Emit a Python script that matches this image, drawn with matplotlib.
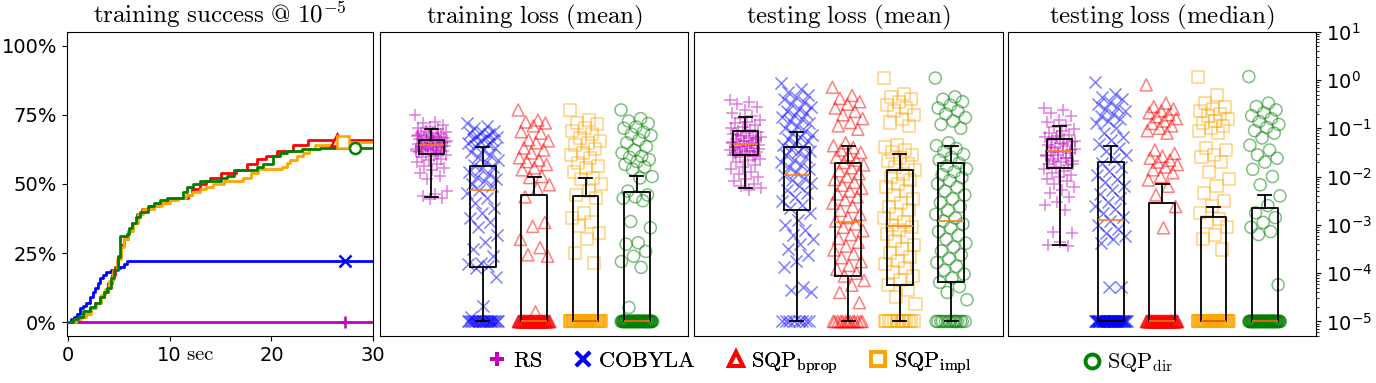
import numpy as np
import matplotlib
matplotlib.use("Agg")
import matplotlib.pyplot as plt
from matplotlib.lines import Line2D

plt.rcParams["mathtext.fontset"] = "cm"
plt.rcParams["font.family"] = ["DejaVu Sans"]

labels = [r"$\mathrm{RS}$", r"$\mathrm{COBYLA}$", r"$\mathrm{SQP}_{\mathrm{bprop}}$",
          r"$\mathrm{SQP}_{\mathrm{impl}}$", r"$\mathrm{SQP}_{\mathrm{dir}}$"]
colors = ["m", "b", "r", "orange", "g"]
markers = ["+", "x", "^", "s", "o"]

# ---- training success curves: (sec, fraction) breakpoints ----
rs_t = [0, 30]
rs_f = [0, 0]
cob_t = [0, 0.3, 0.6, 0.9, 1.2, 1.5, 1.8, 2.2, 2.5, 2.7, 3.0, 3.2, 3.5, 3.8, 4.2, 4.7, 5.1, 5.5, 5.8, 30]
cob_f = [0, 0.01, 0.02, 0.03, 0.05, 0.06, 0.07, 0.09, 0.11, 0.125, 0.14, 0.16, 0.17, 0.18, 0.19, 0.195, 0.20, 0.21, 0.22, 0.22]
bp_t = [0, 0.7, 1.2, 1.7, 2.2, 2.7, 3.2, 3.6, 4.0, 4.3, 4.6, 4.9, 5.2, 5.5, 5.9, 6.3, 6.8, 7.3, 8.0, 9.0,
        9.6, 10.5, 11.8, 12.2, 13.0, 13.6, 14.0, 15.0, 16.5, 17.6, 18.6, 19.5, 20.5, 22.1, 23.6, 30]
bp_f = [0, 0.01, 0.02, 0.03, 0.05, 0.07, 0.09, 0.11, 0.14, 0.17, 0.20, 0.24, 0.28, 0.30, 0.33, 0.36, 0.39, 0.41, 0.42, 0.43,
        0.44, 0.45, 0.46, 0.48, 0.50, 0.51, 0.52, 0.54, 0.55, 0.57, 0.59, 0.60, 0.62, 0.64, 0.66, 0.66]
im_t = [0, 0.8, 1.3, 1.8, 2.3, 2.8, 3.3, 3.7, 4.1, 4.4, 4.8, 5.2, 5.5, 5.9, 6.4, 6.9, 7.4, 8.5, 9.3, 10.0,
        10.8, 11.6, 12.2, 13.0, 13.6, 14.3, 15.3, 17.2, 18.0, 18.7, 21.0, 21.5, 21.8, 22.5, 23.1, 23.7, 24.3, 26.6, 30]
im_f = [0, 0.01, 0.02, 0.03, 0.05, 0.07, 0.10, 0.12, 0.15, 0.19, 0.23, 0.27, 0.30, 0.33, 0.36, 0.39, 0.41, 0.42, 0.43, 0.44,
        0.45, 0.46, 0.47, 0.48, 0.49, 0.50, 0.51, 0.52, 0.54, 0.555, 0.56, 0.575, 0.585, 0.60, 0.61, 0.625, 0.64, 0.65, 0.65]
di_t = [0, 0.5, 1.0, 1.5, 2.2, 2.7, 3.2, 3.6, 3.85, 4.2, 4.5, 4.9, 5.1, 5.8, 6.0, 6.3, 6.7, 7.1, 7.9, 8.5,
        9.1, 9.7, 11.3, 11.7, 12.3, 13.0, 15.0, 15.6, 16.3, 18.6, 19.2, 20.2, 20.8, 21.5, 23.0, 24.8, 30]
di_f = [0, 0.01, 0.02, 0.04, 0.055, 0.07, 0.09, 0.11, 0.125, 0.16, 0.19, 0.235, 0.31, 0.32, 0.34, 0.36, 0.38, 0.40, 0.42, 0.43,
        0.44, 0.45, 0.47, 0.49, 0.50, 0.51, 0.52, 0.53, 0.55, 0.56, 0.57, 0.60, 0.61, 0.62, 0.625, 0.63, 0.63]
marker_t = [27.2, 27.2, 26.4, 27.0, 28.2]

# ---- losses, log10 values above the 1e-5 floor, plus count at floor ----
floor_exp = -5
# box stats: [whislo, q1, med, q3, whishi] (log10)
train_mean_stats = [[-2.42, -1.535, -1.34, -1.24, -1.01],
                    [-5, -3.87, -2.28, -1.78, -1.39],
                    [-5, -5, -5, -2.38, -2.01],
                    [-5, -5, -5, -2.40, -2.03],
                    [-5, -5, -5, -2.31, -1.98]]
test_mean_stats = [[-2.24, -1.56, -1.33, -1.05, -0.76],
                   [-5, -2.70, -1.96, -1.39, -1.07],
                   [-5, -4.06, -2.94, -1.71, -1.36],
                   [-5, -4.24, -3.03, -1.87, -1.53],
                   [-5, -4.19, -2.91, -1.72, -1.36]]
test_median_stats = [[-3.41, -1.83, -1.46, -1.23, -0.96],
                     [-5, -5, -2.89, -1.69, -1.36],
                     [-5, -5, -5, -2.55, -2.16],
                     [-5, -5, -5, -2.84, -2.62],
                     [-5, -5, -5, -2.65, -2.38]]

rs_tr = [-0.72, -0.86, -0.90, -0.93, -0.97, -1.00, -1.02, -1.05, -1.07, -1.09, -1.10, -1.12, -1.14, -1.15, -1.17,
         -1.18, -1.20, -1.21, -1.23, -1.24, -1.25, -1.27, -1.28, -1.30, -1.31, -1.32, -1.33, -1.34, -1.35, -1.36,
         -1.37, -1.38, -1.40, -1.41, -1.42, -1.44, -1.45, -1.47, -1.48, -1.50, -1.52, -1.53, -1.55, -1.57, -1.60,
         -1.63, -1.66, -1.70, -1.74, -1.78, -1.82, -1.87, -1.92, -1.98, -2.05, -2.30, -2.36, -2.40, -2.44, -2.46,
         -1.13, -1.19, -1.26, -1.29, -1.33, -1.36, -1.39, -1.43, -1.46, -1.51]
cob_tr = [-0.89, -0.95, -1.0, -1.05, -1.08, -1.1, -1.12, -1.15, -1.18, -1.2, -1.22, -1.25, -1.27, -1.3, -1.33,
          -1.36, -1.4, -1.45, -1.5, -1.55, -1.6, -1.65, -1.7, -1.75, -1.8, -1.85, -1.9, -1.95, -2.0, -2.05,
          -2.1, -2.15, -2.2, -2.28, -2.35, -2.45, -2.55, -2.65, -2.75, -2.85, -2.95, -3.05, -3.2, -3.35, -3.5,
          -3.65, -3.78, -3.82, -3.86, -3.9, -4.07, -4.69, -4.9]
bp_tr = [-0.62, -0.83, -0.87, -0.89, -0.95, -1.07, -1.1, -1.24, -1.26, -1.3, -1.41, -1.45, -1.51, -1.61, -1.66,
         -1.69, -1.75, -1.82, -1.86, -2.0, -2.02, -2.17, -2.25, -2.42, -2.95, -3.03, -3.3, -3.47, -3.62, -3.65, -4.8]
im_tr = [-0.62, -0.83, -0.89, -0.92, -1.0, -1.05, -1.12, -1.2, -1.27, -1.3, -1.35, -1.42, -1.51, -1.55, -1.62,
         -1.72, -1.78, -1.82, -1.9, -2.02, -2.05, -2.15, -2.3, -2.38, -2.45, -2.75, -2.85, -2.95, -3.03, -3.17,
         -3.3, -3.58, -3.78]
di_tr = [-0.62, -0.8, -0.85, -0.9, -0.97, -1.0, -1.08, -1.12, -1.15, -1.24, -1.3, -1.38, -1.45, -1.51, -1.58,
         -1.6, -1.65, -1.69, -1.75, -1.8, -1.85, -2.0, -2.03, -2.3, -2.38, -2.42, -2.45, -2.5, -2.93, -3.06,
         -3.37, -3.4, -3.55, -3.65, -3.76, -3.88, -4.71]
train_floor = [0, 22, 66, 65, 63]

rs_te = [-0.42, -0.45, -0.50, -0.55, -0.62, -0.68, -0.74, -0.78, -0.82, -0.86, -0.90, -0.94, -0.97, -1.00, -1.03,
         -1.05, -1.08, -1.10, -1.12, -1.15, -1.17, -1.19, -1.21, -1.23, -1.25, -1.27, -1.29, -1.31, -1.33, -1.34,
         -1.36, -1.38, -1.40, -1.42, -1.44, -1.46, -1.48, -1.50, -1.52, -1.55, -1.57, -1.60, -1.63, -1.66, -1.70,
         -1.75, -1.80, -1.85, -1.90, -1.95, -2.00, -2.05, -2.10, -2.15, -2.20, -2.24, -2.27,
         -1.14, -1.20, -1.26, -1.30, -1.35, -1.39, -1.43, -1.47, -1.51, -1.58]
cob_te = [-0.07, -0.18, -0.25, -0.32, -0.36, -0.40, -0.45, -0.50, -0.55, -0.60, -0.64, -0.68, -0.72, -0.76, -0.80,
          -0.85, -0.90, -0.95, -1.00, -1.05, -1.10, -1.14, -1.18, -1.22, -1.26, -1.30, -1.34, -1.38, -1.42, -1.46,
          -1.50, -1.55, -1.60, -1.65, -1.70, -1.75, -1.80, -1.85, -1.90, -1.96, -2.02, -2.08, -2.14, -2.20, -2.27,
          -2.34, -2.42, -2.50, -2.58, -2.66, -2.75, -2.90, -3.00, -3.10, -3.20, -3.30, -3.40, -3.50, -3.62, -3.75,
          -3.88, -4.28, -4.35, -4.40]
bp_te = [-0.15, -0.32, -0.38, -0.45, -0.50, -0.58, -0.65, -0.72, -0.80, -0.88, -0.95, -1.02, -1.30, -1.36, -1.40,
         -1.45, -1.50, -1.55, -1.60, -1.66, -1.71, -1.76, -1.82, -1.88, -1.94, -2.00, -2.06, -2.12, -2.18, -2.24,
         -2.30, -2.36, -2.42, -2.48, -2.55, -2.62, -2.70, -2.78, -2.85, -2.92, -2.98, -3.05, -3.12, -3.20, -3.28,
         -3.36, -3.44, -3.52, -3.60, -3.68, -3.76, -3.84, -3.92, -4.00, -4.06, -4.15, -4.25, -4.40, -4.61]
im_te = [0.04, -0.30, -0.35, -0.40, -0.46, -0.52, -0.58, -0.65, -0.72, -0.80, -0.88, -0.95, -1.34, -1.38, -1.44,
         -1.50, -1.56, -1.62, -1.68, -1.74, -1.80, -1.87, -1.94, -2.00, -2.08, -2.15, -2.22, -2.30, -2.38, -2.46,
         -2.54, -2.62, -2.70, -2.78, -2.86, -2.94, -3.00, -3.05, -3.10, -3.18, -3.26, -3.34, -3.42, -3.50, -3.58,
         -3.66, -3.74, -3.82, -3.90, -3.98, -4.06, -4.15, -4.24, -4.35, -4.50, -4.63]
di_te = [0.04, -0.35, -0.40, -0.45, -0.52, -0.58, -0.64, -0.70, -0.78, -0.85, -0.92, -1.00, -1.30, -1.36, -1.42,
         -1.48, -1.54, -1.60, -1.66, -1.72, -1.78, -1.84, -1.90, -1.96, -2.02, -2.08, -2.15, -2.22, -2.30, -2.38,
         -2.46, -2.54, -2.62, -2.70, -2.78, -2.86, -2.92, -2.98, -3.06, -3.14, -3.22, -3.30, -3.38, -3.46, -3.54,
         -3.62, -3.70, -3.78, -3.86, -3.94, -4.02, -4.10, -4.19, -4.28, -4.40, -4.55]
test_floor = [0, 8, 14, 14, 14]

rs_md = [-0.58, -0.62, -0.68, -0.75, -0.82, -0.88, -0.94, -0.98, -1.02, -1.06, -1.10, -1.13, -1.16, -1.19, -1.22,
         -1.25, -1.28, -1.31, -1.34, -1.37, -1.40, -1.43, -1.46, -1.49, -1.52, -1.55, -1.58, -1.61, -1.64, -1.67,
         -1.70, -1.73, -1.76, -1.80, -1.84, -1.88, -1.92, -1.96, -2.00, -2.05, -2.10, -2.16, -2.22, -2.28, -2.35,
         -2.42, -2.52, -2.58, -2.70, -3.14, -3.16, -3.35, -3.41, -3.44,
         -1.20, -1.27, -1.33, -1.39, -1.44, -1.50, -1.56, -1.62, -1.68, -1.74]
cob_md = [-0.04, -0.30, -0.35, -0.40, -0.45, -0.50, -0.55, -0.60, -0.65, -0.70, -0.75, -0.80, -0.85, -0.90, -1.00,
          -1.10, -1.18, -1.25, -1.32, -1.40, -1.48, -1.56, -1.64, -1.72, -1.80, -1.88, -1.96, -2.04, -2.12, -2.20,
          -2.28, -2.36, -2.44, -2.52, -2.60, -2.68, -2.76, -2.84, -2.92, -3.00, -3.08, -3.16, -3.24, -3.30, -3.37,
          -4.28, -4.28]
bp_md = [-0.10, -0.48, -0.55, -0.60, -0.64, -0.68, -0.72, -0.76, -0.80, -0.85, -0.90, -0.95, -1.00, -1.05, -1.10,
         -1.45, -1.52, -1.58, -1.62, -1.66, -1.70, -1.75, -1.80, -1.86, -1.92, -2.00, -2.07, -2.20, -2.38, -2.62, -3.06]
im_md = [0.07, -0.31, -0.48, -0.55, -0.60, -0.65, -0.70, -0.75, -0.80, -0.85, -0.90, -0.95, -1.00, -1.05, -1.10,
         -1.40, -1.45, -1.55, -1.60, -1.70, -1.90, -2.05, -2.20, -2.35, -2.50, -2.60, -2.75, -2.88, -2.95, -3.05,
         -3.20, -3.30, -3.51]
di_md = [0.07, -0.48, -0.55, -0.62, -0.68, -0.74, -0.80, -0.86, -0.92, -0.98, -1.05, -1.10, -1.20, -1.35, -1.45,
         -1.55, -1.62, -1.70, -1.85, -2.00, -2.17, -2.40, -2.60, -2.75, -2.85, -2.95, -3.05, -3.14, -3.20, -4.24]
median_floor = [0, 48, 69, 67, 67]

panels = [
    ("training loss (mean)", [rs_tr, cob_tr, bp_tr, im_tr, di_tr], train_floor, train_mean_stats),
    ("testing loss (mean)", [rs_te, cob_te, bp_te, im_te, di_te], test_floor, test_mean_stats),
    ("testing loss (median)", [rs_md, cob_md, bp_md, im_md, di_md], median_floor, test_median_stats),
]

W, H = 1376, 383
fig = plt.figure(figsize=(W / 100, H / 100), dpi=100)


def rect(l, r):
    return [l / W, (H - 336) / H, (r - l) / W, (336 - 31.7) / H]


# ---- success panel ----
ax0 = fig.add_axes(rect(66.7, 373.3))
curves = [(rs_t, rs_f), (cob_t, cob_f), (bp_t, bp_f), (im_t, im_f), (di_t, di_f)]
for i, (t, f) in enumerate(curves):
    ax0.plot(t, f, drawstyle="steps-post", color=colors[i], lw=2, zorder=2 + (i == 4))
    mfc = "white" if markers[i] in "^so" else colors[i]
    ax0.plot(marker_t[i], f[-1], marker=markers[i], color=colors[i], mfc=mfc,
             ms=8, mew=1.8, ls="none", zorder=5)
ax0.set_xlim(-0.1, 30)
ax0.set_ylim(-0.05, 1.05)
ax0.set_yticks([0, 0.25, 0.5, 0.75, 1.0])
ax0.set_yticklabels(["0%", "25%", "50%", "75%", "100%"])
ax0.set_xticks([0, 10, 20, 30])
ax0.set_xticklabels(["0", "10", "20", "30"])
ax0.tick_params(labelsize=14)
ax0.annotate(r"$\mathrm{sec}$", xy=(10, 0), xycoords=("data", "axes fraction"),
             xytext=(12, -17.5), textcoords="offset points", va="baseline", ha="left", fontsize=15)
ax0.set_title(r"$\mathrm{training\ success\ @\ 10^{-5}}$", fontsize=18)

# ---- loss panels ----
lefts = [(380, 688.3), (694, 1002.7), (1008.3, 1316)]
for p, (title, groups, floors, stats) in enumerate(panels):
    ax = fig.add_axes(rect(*lefts[p]))
    ax.set_yscale("log")
    for i in range(5):
        vals = np.array(groups[i] + [floor_exp] * floors[i], dtype=float)
        n = len(vals)
        off = ((np.arange(n) * 0.6180339887) % 1.0 - 0.5) * 0.62
        fc = "none" if markers[i] in "^so" else colors[i]
        ec = colors[i]
        ax.scatter(i + 1 + off, 10.0 ** vals, marker=markers[i], s=75,
                   facecolors=fc, edgecolors=ec, linewidths=1.1, alpha=0.5, zorder=2)
    bstats = []
    for st in stats:
        lo, q1, med, q3, hi = [10.0 ** v for v in st]
        bstats.append(dict(whislo=lo, q1=q1, med=med, q3=q3, whishi=hi, fliers=[]))
    ax.bxp(bstats, positions=[1, 2, 3, 4, 5], widths=0.5, showfliers=False,
           boxprops=dict(color="k", lw=1.3), whiskerprops=dict(color="k", lw=1.3),
           capprops=dict(color="k", lw=1.3), medianprops=dict(color="#ff7f0e", lw=1.2),
           zorder=3)
    ax.set_xlim(0, 6)
    ax.set_ylim(5e-6, 10)
    ax.set_xticks([])
    ax.set_title(title.replace(" ", r"\ ").join([r"$\mathrm{", "}$"]), fontsize=18)
    if p < 2:
        ax.tick_params(axis="y", which="both", left=False, labelleft=False)
    else:
        ax.yaxis.tick_right()
        ax.set_yticks([10.0 ** k for k in range(-5, 2)])
        ax.tick_params(axis="y", labelsize=14)

handles = []
for i in range(5):
    mfc = "none" if markers[i] in "^so" else colors[i]
    handles.append(Line2D([], [], marker=markers[i], color=colors[i], mfc=mfc, ls="none",
                          ms=10, mew=2.8))
leg_kw = dict(frameon=False, fontsize=16, handlelength=0.8, handletextpad=0.3, columnspacing=1.4)
leg1 = fig.legend(handles[:4], labels[:4], loc="center", bbox_to_anchor=(730 / W, 1 - 363 / H),
                  ncol=4, **leg_kw)
fig.add_artist(leg1)
fig.legend(handles[4:], labels[4:], loc="center", bbox_to_anchor=(1128 / W, 1 - 363 / H),
           ncol=1, **leg_kw)

fig.savefig("out.png", dpi=100)
